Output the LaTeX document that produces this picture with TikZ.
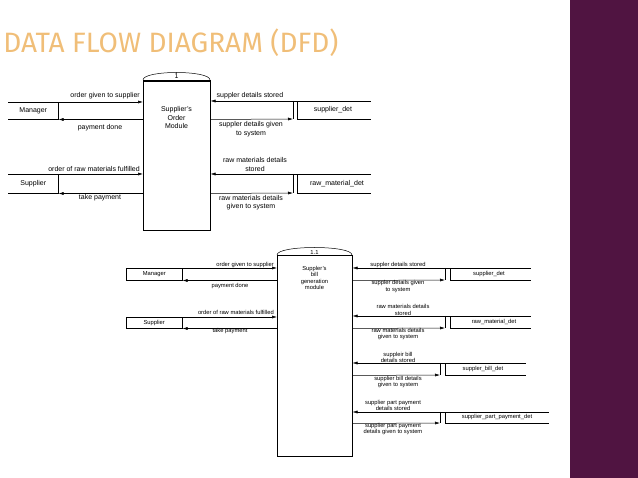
\documentclass[tikz,border=0pt]{standalone}
\usepackage{fontspec}
\setmainfont{Liberation Sans}
\newfontfamily\titlefont{Fira Sans}
\usetikzlibrary{arrows.meta}
\definecolor{ttl}{RGB}{240,190,120}
\definecolor{purp}{RGB}{80,20,65}
\begin{document}
\begin{tikzpicture}[x=1pt,y=-1pt,line width=0.5pt,
  ent/.style={draw,minimum width=#1,minimum height=0pt,inner sep=0pt,anchor=north west},
  flow/.style={-{Latex[length=5pt,width=3pt]}},
  lbA/.style={font=\fontsize{7}{8.5}\selectfont,align=center,inner sep=0pt},
  lbB/.style={font=\fontsize{5.8}{6.6}\selectfont,align=center,inner sep=0pt}]
\useasboundingbox (0,0) rectangle (638,478);
\fill[purp] (570,0) rectangle (638,478);
\node[anchor=west,text=ttl,font=\titlefont\fontsize{28}{30}\selectfont,inner sep=0pt] (title) at (3,43) {DATA FLOW DIAGRAM (DFD)};
% ---------- diagram 1
\node[draw,anchor=north west,minimum width=67pt,minimum height=150pt,inner sep=0pt] (p1) at (143,80) {};
\draw (143,80) .. controls (143,70) and (210,70) .. (210,80);
\draw (143,81) -- (210,81);
\node[lbA] (p1n) at (176.5,76.5) {1};
\node[lbA] (p1t) at (176.5,118) {Supplier's\\Order\\Module};
\node[ent=50pt,minimum height=17pt,draw=none] (man1) at (8,102) {};
\draw (man1.north west) -- (man1.north east) -- (man1.south east) -- (man1.south west);
\node[lbA] at (man1.center) {Manager};
\node[ent=50pt,minimum height=19pt,draw=none] (sup1) at (8,174) {};
\draw (sup1.north west) -- (sup1.north east) -- (sup1.south east) -- (sup1.south west);
\node[lbA] at (sup1.center) {Supplier};
\draw[flow] (man1.north east) -- (man1.north east -| p1.west);
\draw[flow] (man1.south east -| p1.west) -- (man1.south east);
\draw[flow] (sup1.north east) -- (sup1.north east -| p1.west);
\draw[flow] (sup1.south east -| p1.west) -- (sup1.south east);
\node[lbA,anchor=east] at (140,96) {order given to supplier};
\node[lbA] at (100,128) {payment done};
\node[lbA,anchor=east] at (140,169) {order of raw materials fulfilled};
\node[lbA] at (100,198) {take payment};
\node[minimum width=73pt,minimum height=18pt,inner sep=0pt,anchor=north west] (sd1) at (297,101) {};
\draw (sd1.north east) -- (sd1.north west) -- (sd1.south west) -- (sd1.south east);
\node[lbA] at (333,110) {supplier\_det};
\node[minimum width=73pt,minimum height=19pt,inner sep=0pt,anchor=north west] (rd1) at (297,174) {};
\draw (rd1.north east) -- (rd1.north west) -- (rd1.south west) -- (rd1.south east);
\node[lbA] at (337,183.5) {raw\_material\_det};
\draw (293,101) -- (293,119) (293,174) -- (293,193);
\draw[flow] (sd1.north west) -- (sd1.north west -| p1.east);
\draw[flow] (sd1.south west -| p1.east) -- (293,119);
\draw[flow] (rd1.north west) -- (rd1.north west -| p1.east);
\draw[flow] (rd1.south west -| p1.east) -- (293,193);
\node[lbA] at (250,96) {suppler details stored};
\node[lbA] at (251,129) {suppler details given\\to system};
\node[lbA] at (255,164.5) {raw materials details\\stored};
\node[lbA] at (251,202.5) {raw materials details\\given to system};
% ---------- diagram 2
\node[draw,anchor=north west,minimum width=75pt,minimum height=201pt,inner sep=0pt] (p2) at (277,255) {};
\draw (277,255) .. controls (277,245) and (352,245) .. (352,255);
\node[lbB] at (314.5,252.5) {1.1};
\node[lbB] at (314.5,278) {Suppler's\\bill\\generation\\module};
\node[minimum width=56pt,minimum height=12pt,inner sep=0pt,anchor=north west] (man2) at (126,268) {};
\draw (man2.north west) -- (man2.north east) -- (man2.south east) -- (man2.south west) -- cycle;
\node[lbB] at (man2.center) {Manager};
\node[minimum width=56pt,minimum height=11pt,inner sep=0pt,anchor=north west] (sup2) at (126,317) {};
\draw (sup2.north west) -- (sup2.north east) -- (sup2.south east) -- (sup2.south west) -- cycle;
\node[lbB] at (sup2.center) {Supplier};
\draw[flow] (man2.north east) -- (man2.north east -| p2.west);
\draw[flow] (man2.south east -| p2.west) -- (man2.south east);
\draw[flow] (sup2.north east) -- (sup2.north east -| p2.west);
\draw[flow] (sup2.south east -| p2.west) -- (sup2.south east);
\node[lbB,anchor=east] at (274,265) {order given to supplier};
\node[lbB] at (230,286) {payment done};
\node[lbB,anchor=east] at (274,312) {order of raw materials fulfilled};
\node[lbB] at (230,331) {take payment};
% stores
\foreach \nm/\ya/\yb/\xa/\xr in {sd2/268/280/450/530, rd2/316/328/450/530, bd2/363/375/445/525, pd2/412/423/445/548}{
  \node[minimum width=\xr-\xa,minimum height=\yb-\ya,inner sep=0pt,anchor=north west] (\nm) at (\xa,\ya) {};
  \draw (\nm.north east) -- (\nm.north west) -- (\nm.south west) -- (\nm.south east);
  \draw (\xa-5,\ya) -- (\xa-5,\yb);
  \draw[flow] (\nm.north west) -- (\nm.north west -| p2.east);
  \draw[flow] (\nm.south west -| p2.east) -- (\xa-5,\yb);
}
\node[lbB] at (489,274) {supplier\_det};
\node[lbB] at (494,322) {raw\_material\_det};
\node[lbB] at (483,369) {suppler\_bill\_det};
\node[lbB] at (497,417.5) {supplier\_part\_payment\_det};
\node[lbB] at (398,265) {suppler details stored};
\node[lbB] at (398,286.5) {suppler details given\\to system};
\node[lbB] at (403,310) {raw materials details\\stored};
\node[lbB] at (398,334) {raw materials details\\given to system};
\node[lbB] at (398,357.5) {suppleir bill\\details stored};
\node[lbB] at (398,382) {supplier bill details\\given to system};
\node[lbB] at (393,405.5) {supplier part payment\\details stored};
\node[lbB] at (393,429) {supplier part payment\\details given to system};
\end{tikzpicture}
\end{document}
